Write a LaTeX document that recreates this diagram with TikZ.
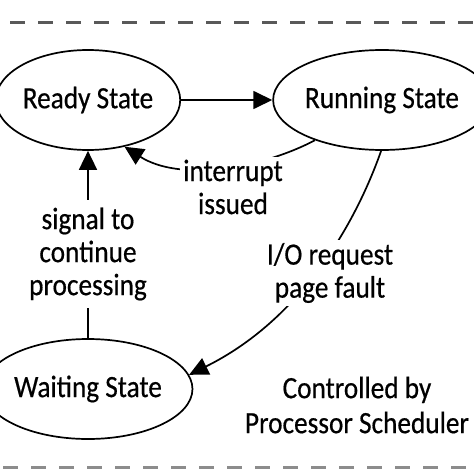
\documentclass[tikz,border=0pt]{standalone}
\usepackage{fontspec}
\setmainfont{Carlito}[FakeStretch=0.88,FakeBold=0.5]
\usetikzlibrary{arrows.meta,shapes.geometric}
\begin{document}
\begin{tikzpicture}[x=1pt,y=-1pt,
  stateshape/.style={draw,line width=1.7pt,ellipse,minimum width=173pt,minimum height=100pt,inner sep=0pt,font=\fontsize{31}{33}\selectfont},
  lbl/.style={align=center,font=\fontsize{31}{33}\selectfont,fill=white,inner sep=3pt},
  plain/.style={align=center,font=\fontsize{31}{35}\selectfont},
  conn/.style={line width=1.7pt},
  arr/.style={conn,-{Triangle[length=19pt,width=18pt]}},
  sep/.style={line width=3pt,dash pattern=on 15pt off 13pt}]
\useasboundingbox (0,0) rectangle (474,474);
\draw[sep,color=black!65] (10,22) -- (474,22);
\draw[sep,color=black!45] (3,467) -- (474,467);
\node[stateshape] (ready) at (88,100) {Ready State};
\node[stateshape] (run) at (382,100) {Running State};
\node[stateshape] (wait) at (88,389) {Waiting State};
\coordinate (stub) at (474,100);
\draw[conn] (run.east) -- (stub);
\draw[arr] (ready.east) -- (run.west);
\draw[arr] (run.211) .. controls (260,169) and (180,182) .. (ready.-52);
\node[lbl] (intl) at (233,187) {interrupt\\issued};
\draw[arr] (wait.north) -- (ready.south);
\node[lbl,inner sep=8pt] (sigl) at (88,254) {signal to\\continue\\processing};
\draw[arr] (run.-91) .. controls (355,225) and (300,320) .. (wait.8);
\node[lbl] (iol) at (330,273) {I/O request\\page fault};
\node[plain] (ctl) at (357,405) {Controlled by\\Processor Scheduler};
\end{tikzpicture}
\end{document}
